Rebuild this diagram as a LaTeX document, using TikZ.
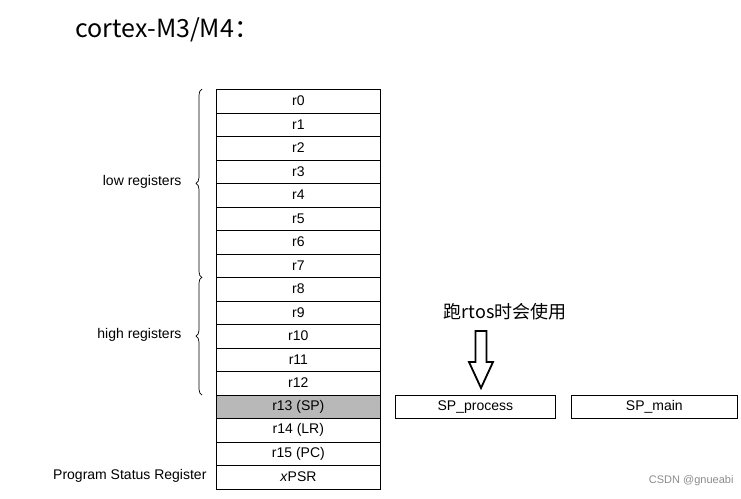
\documentclass[tikz,border=0pt]{standalone}
\usepackage{fontspec}
\setmainfont{Liberation Sans}
\newfontfamily\cjk{Noto Sans CJK SC}
\newfontfamily\cjkl{Noto Sans CJK SC Light}
\usetikzlibrary{decorations.pathreplacing,calc}
\begin{document}
\begin{tikzpicture}[x=1pt,y=-1pt,
  reg/.style={draw,line width=0.7pt,minimum width=164pt,minimum height=23.5pt,inner sep=0pt,font=\fontsize{14}{14}\selectfont,anchor=north west},
  side/.style={draw,line width=0.7pt,minimum height=23.5pt,inner sep=0pt,font=\fontsize{14}{14}\selectfont,anchor=north west},
  lbl/.style={font=\fontsize{14}{14}\selectfont,anchor=east},
  br/.style={decorate,decoration={brace,amplitude=6pt},line width=0.7pt}]
\useasboundingbox (0,0) rectangle (741,498);
\node[anchor=west,font=\cjk\fontsize{25}{25}\selectfont] (title) at (72,30) {cortex-M3/M4：};
\foreach \t [count=\i from 0] in {r0,r1,r2,r3,r4,r5,r6,r7,r8,r9,r10,r11,r12}
  \node[reg] (r\i) at (216,{89+23.5*\i}) {\t};
\node[reg,fill=black!28] (r13) at (216,{89+23.5*13}) {r13 (SP)};
\node[reg] (r14) at (216,{89+23.5*14}) {r14 (LR)};
\node[reg] (r15) at (216,{89+23.5*15}) {r15 (PC)};
\node[reg] (xpsr) at (216,{89+23.5*16}) {\textit{x}PSR};
\node[side,minimum width=160pt] (spp) at (395,{89+23.5*13}) {SP\_process};
\node[side,minimum width=166pt] (spm) at (571,{89+23.5*13}) {SP\_main};
\draw[br] ($(r7.south west)+(-14,0)$) -- ($(r0.north west)+(-14,0)$);
\draw[br] ($(r12.south west)+(-14,0)$) -- ($(r8.north west)+(-14,0)$);
\node[lbl] (low) at (185,182) {low registers};
\node[lbl] (high) at (185,335) {high registers};
\node[lbl] (psr) at (210,476) {Program Status Register};
\node[font=\cjk\fontsize{18}{18}\selectfont] (note) at (505,312) {跑rtos时会使用};
\draw[line width=1.8pt,line join=miter] (475.5,331) -- (475.5,362) -- (469,362) -- (481,388) -- (493,362) -- (486.5,362) -- (486.5,331) -- cycle;
\node[anchor=east,text=black!45,font=\fontsize{11}{11}\selectfont] (wm) at (737,481) {CSDN @gnueabi};
\end{tikzpicture}
\end{document}
